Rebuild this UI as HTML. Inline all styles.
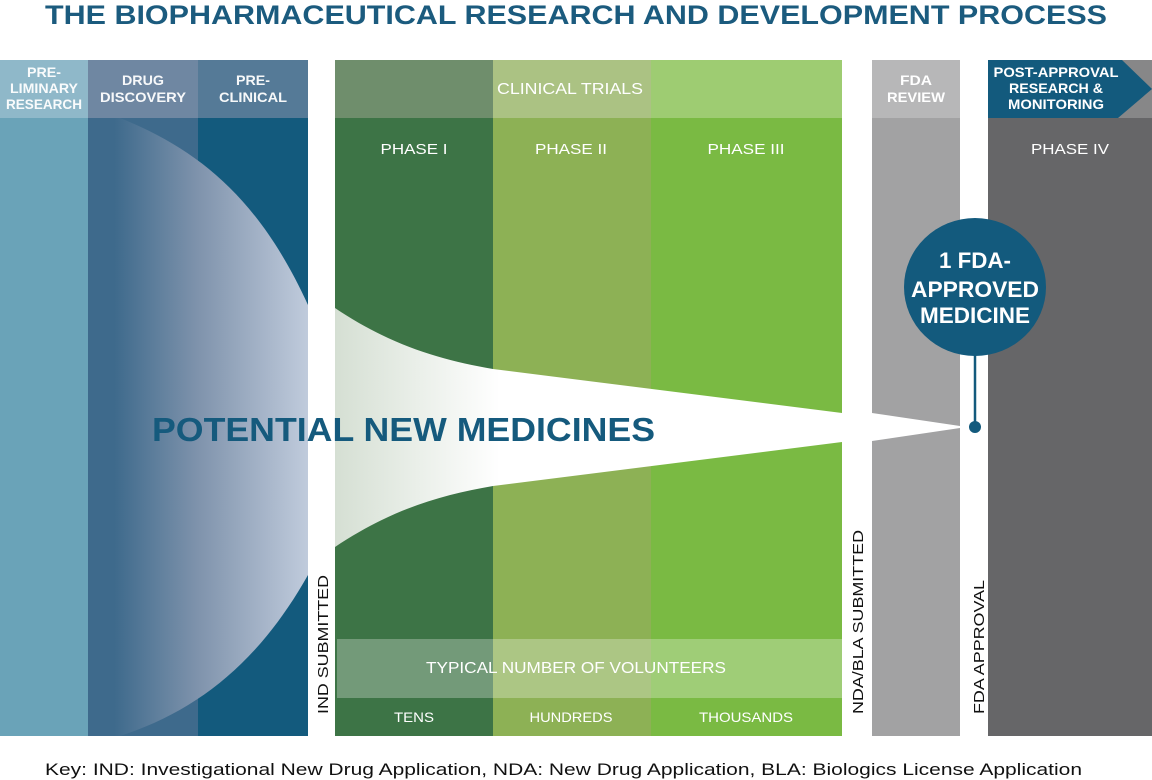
<!DOCTYPE html>
<html><head><meta charset="utf-8"><style>
html,body{margin:0;padding:0;background:#fff;}
svg{display:block;font-family:"Liberation Sans",sans-serif;}
</style></head><body>
<svg width="1152" height="780" viewBox="0 0 1152 780">
<defs>
<linearGradient id="gBlue" x1="88" x2="308" y1="0" y2="0" gradientUnits="userSpaceOnUse">
<stop offset="0" stop-color="#3e6a8c"/><stop offset="0.12" stop-color="#3e6a8c"/><stop offset="0.5" stop-color="#7f93ac"/><stop offset="1" stop-color="#c0cbdc"/>
</linearGradient>
<linearGradient id="gGreen" x1="335" x2="500" y1="0" y2="0" gradientUnits="userSpaceOnUse">
<stop offset="0" stop-color="#d5dfd3"/><stop offset="1" stop-color="#ffffff"/>
</linearGradient>
</defs>
<text x="576" y="24" text-anchor="middle" font-size="27" font-weight="bold" fill="#1b5b7e" textLength="1062" lengthAdjust="spacingAndGlyphs">THE BIOPHARMACEUTICAL RESEARCH AND DEVELOPMENT PROCESS</text>

<g>
<rect x="0" y="60" width="88" height="676" fill="#6aa3b8"/>
<rect x="88" y="60" width="110" height="676" fill="#3e6a8c"/>
<rect x="198" y="60" width="110" height="676" fill="#135a7d"/>
<path d="M120,118 C200,150 260,200 308,305 L308,575 C260,660 200,710 120,736 L88,736 L88,118 Z" fill="url(#gBlue)"/>
<rect x="0" y="60" width="88" height="58" fill="#8fb8c9"/>
<rect x="88" y="60" width="110" height="58" fill="#6f87a2"/>
<rect x="198" y="60" width="110" height="58" fill="#557a97"/>
<g fill="#fff" font-size="14" text-anchor="middle" font-weight="bold" opacity="0.95">
<text x="44" y="77" textLength="34" lengthAdjust="spacingAndGlyphs">PRE-</text><text x="44" y="93" textLength="68" lengthAdjust="spacingAndGlyphs">LIMINARY</text><text x="44" y="109" textLength="76" lengthAdjust="spacingAndGlyphs">RESEARCH</text>
<text x="143" y="85" textLength="42" lengthAdjust="spacingAndGlyphs">DRUG</text><text x="143" y="102" textLength="86" lengthAdjust="spacingAndGlyphs">DISCOVERY</text>
<text x="253" y="85" textLength="34" lengthAdjust="spacingAndGlyphs">PRE-</text><text x="253" y="102" textLength="68" lengthAdjust="spacingAndGlyphs">CLINICAL</text>
</g>
</g>
<text transform="translate(328,714) rotate(-90)" font-size="15" fill="#111" textLength="139" lengthAdjust="spacingAndGlyphs">IND SUBMITTED</text>

<g>
<rect x="335" y="118" width="158" height="618" fill="#3d7446"/>
<rect x="493" y="118" width="158" height="618" fill="#8db155"/>
<rect x="651" y="118" width="191" height="618" fill="#7aba43"/>
<path d="M335,308 C390,345 440,360 493,369 L842,413 L842,442 L493,486 C440,495 390,510 335,547 Z" fill="url(#gGreen)"/>
<rect x="335" y="60" width="158" height="58" fill="#6f8e6c"/>
<rect x="493" y="60" width="158" height="58" fill="#abc283"/>
<rect x="651" y="60" width="191" height="58" fill="#9ecc72"/>
<text x="570" y="94" fill="#fff" font-size="16" text-anchor="middle" textLength="146" lengthAdjust="spacingAndGlyphs">CLINICAL TRIALS</text>
<g fill="#fff" font-size="15" text-anchor="middle">
<text x="414" y="154" textLength="67" lengthAdjust="spacingAndGlyphs">PHASE I</text><text x="571" y="154" textLength="72" lengthAdjust="spacingAndGlyphs">PHASE II</text><text x="746" y="154" textLength="77" lengthAdjust="spacingAndGlyphs">PHASE III</text>
</g>
<rect x="337" y="639" width="505" height="59" fill="#ffffff" opacity="0.28"/>
<text x="576" y="673" fill="#fff" font-size="16" text-anchor="middle" textLength="300" lengthAdjust="spacingAndGlyphs">TYPICAL NUMBER OF VOLUNTEERS</text>
<g fill="#fff" font-size="14" text-anchor="middle">
<text x="414" y="722" textLength="40" lengthAdjust="spacingAndGlyphs">TENS</text><text x="571" y="722" textLength="83" lengthAdjust="spacingAndGlyphs">HUNDREDS</text><text x="746" y="722" textLength="94" lengthAdjust="spacingAndGlyphs">THOUSANDS</text>
</g>
</g>
<text transform="translate(863,714) rotate(-90)" font-size="15" fill="#111" textLength="184" lengthAdjust="spacingAndGlyphs">NDA/BLA SUBMITTED</text>

<g>
<rect x="872" y="60" width="88" height="676" fill="#a2a2a3"/>
<rect x="872" y="60" width="88" height="58" fill="#b7b7b8"/>
<path d="M872,413 L960,426 L960,428 L872,441 Z" fill="#fff"/>
<g fill="#fff" font-size="14" text-anchor="middle" font-weight="bold">
<text x="916" y="85" textLength="32" lengthAdjust="spacingAndGlyphs">FDA</text>
<text x="916" y="102" textLength="58" lengthAdjust="spacingAndGlyphs">REVIEW</text>
</g>
</g>
<text transform="translate(984,714) rotate(-90)" font-size="15" fill="#111" textLength="134" lengthAdjust="spacingAndGlyphs">FDA APPROVAL</text>

<g>
<rect x="988" y="60" width="164" height="676" fill="#666668"/>
<rect x="988" y="60" width="164" height="58" fill="#878788"/>
<path d="M988,60 L1122,60 L1152,89 L1118,118 L988,118 Z" fill="#135a7d"/>
<g fill="#fff" font-size="14" text-anchor="middle" font-weight="bold">
<text x="1056" y="77" textLength="125" lengthAdjust="spacingAndGlyphs">POST-APPROVAL</text><text x="1056" y="93" textLength="94" lengthAdjust="spacingAndGlyphs">RESEARCH &amp;</text><text x="1056" y="109" textLength="96" lengthAdjust="spacingAndGlyphs">MONITORING</text>
</g>
<text x="1070" y="154" fill="#fff" font-size="15" text-anchor="middle" textLength="78" lengthAdjust="spacingAndGlyphs">PHASE IV</text>
</g>

<g>
<line x1="975" y1="340" x2="975" y2="427" stroke="#135a7d" stroke-width="2.5"/>
<circle cx="975" cy="427" r="6" fill="#135a7d"/>
<ellipse cx="975" cy="287" rx="71" ry="69" fill="#135a7d"/>
<g fill="#fff" font-size="22" font-weight="bold" text-anchor="middle">
<text x="975" y="268" textLength="72" lengthAdjust="spacingAndGlyphs">1 FDA-</text><text x="975" y="297" textLength="128" lengthAdjust="spacingAndGlyphs">APPROVED</text><text x="975" y="323" textLength="110" lengthAdjust="spacingAndGlyphs">MEDICINE</text>
</g>
</g>

<text x="152" y="441" font-size="33" font-weight="bold" fill="#155a7d" textLength="503" lengthAdjust="spacingAndGlyphs">POTENTIAL NEW MEDICINES</text>

<text x="45" y="775" font-size="17" fill="#111" textLength="1037" lengthAdjust="spacingAndGlyphs">Key: IND: Investigational New Drug Application, NDA: New Drug Application, BLA: Biologics License Application</text>
</svg>
</body></html>
